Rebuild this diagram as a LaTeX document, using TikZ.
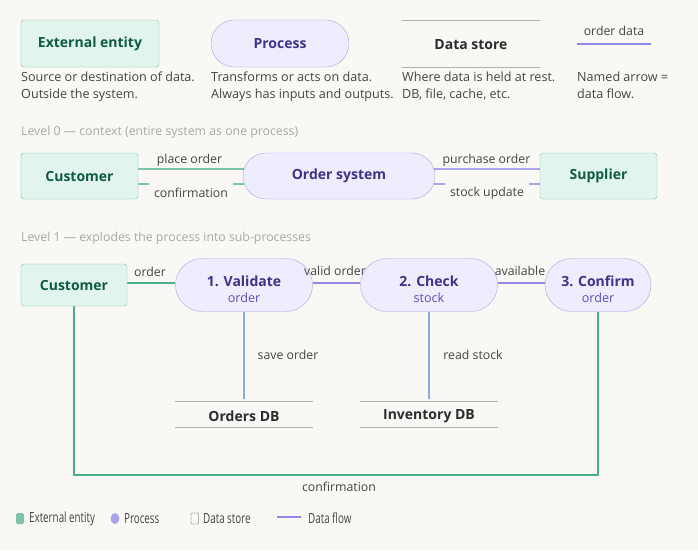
\documentclass[tikz,border=0pt]{standalone}
\usepackage{fontspec}
\usepackage{graphicx}
\setmainfont{Open Sans}
\usetikzlibrary{backgrounds}
\definecolor{bgc}{HTML}{F9F8F5}
\definecolor{entfill}{HTML}{E1F5EE}
\definecolor{entdraw}{HTML}{7CC2A4}
\definecolor{enttext}{HTML}{0F5A44}
\definecolor{procfill}{HTML}{EEEDFE}
\definecolor{procdraw}{HTML}{AAA4EA}
\definecolor{proctext}{HTML}{3C3489}
\definecolor{procsub}{HTML}{5A50C0}
\definecolor{storeline}{HTML}{B4B2AC}
\definecolor{darktext}{HTML}{2C2C2A}
\definecolor{labtext}{HTML}{444441}
\definecolor{headtext}{HTML}{A9A8A3}
\definecolor{gline}{HTML}{7CC4A4}
\definecolor{gdark}{HTML}{4DAE8A}
\definecolor{pline}{HTML}{AAA4EA}
\definecolor{pdark}{HTML}{8F88E6}
\definecolor{bline}{HTML}{7FAEE6}
\tikzset{
  x=1pt, y=-1pt,
  entity/.style={draw=entdraw, fill=entfill, rounded corners=3pt, text=enttext,
    font=\fontsize{14}{17}\selectfont\bfseries, inner sep=0pt},
  proc/.style={draw=procdraw, fill=procfill, text=proctext,
    font=\fontsize{14}{17}\selectfont\bfseries, inner sep=0pt, align=center},
  ptitle/.style={text=proctext, font=\fontsize{14}{17}\selectfont\bfseries, inner sep=0pt},
  psub/.style={text=procsub, font=\fontsize{12.6}{15}\selectfont, inner sep=0pt},
  storetext/.style={text=darktext, font=\fontsize{14}{17}\selectfont\bfseries, inner sep=0pt},
  desc/.style={text=labtext, font=\fontsize{12.6}{17}\selectfont, align=left, anchor=north west, inner sep=0pt},
  lab/.style={text=labtext, font=\fontsize{12.3}{15}\selectfont, inner sep=1pt},
  head/.style={text=headtext, font=\fontsize{12.3}{15}\selectfont, anchor=west, inner sep=0pt},
  leg/.style={text=labtext, font=\fontsize{14}{15}\selectfont, anchor=west, inner sep=0pt},
  gflow/.style={draw=gline, line width=1.6pt},
  gloop/.style={draw=gdark, line width=1.5pt},
  pflow/.style={draw=pline, line width=1.6pt},
  bflow/.style={draw=bline, line width=1.6pt},
  storeln/.style={draw=storeline, line width=1pt},
}
\begin{document}
\begin{tikzpicture}
\useasboundingbox (0,0) rectangle (698,550);
\begin{scope}[on background layer]
\fill[bgc] (0,0) rectangle (698,550);
\end{scope}

% ---- legend row ----
\node[entity, minimum width=138pt, minimum height=47pt] (le) at (90,43.5) {External entity};
\node[proc, minimum width=138pt, minimum height=47pt, rounded corners=23.5pt] (lp) at (280,43.5) {Process};
\coordinate (lsa) at (402,20);
\coordinate (lsb) at (540,20);
\coordinate (lsc) at (402,67);
\coordinate (lsd) at (540,67);
\node[storetext] (ls) at (471,45) {Data store};
\draw[storeln] (lsa) -- (lsb);
\draw[storeln] (lsc) -- (lsd);
\node[lab] (lod) at (614,31) {order data};
\coordinate (lfa) at (577,44);
\coordinate (lfb) at (651,44);
\draw[draw=pdark, line width=2pt] (lfa) -- (lfb);

\node[desc] (d1) at (21,72) {Source or destination of data.\\Outside the system.};
\node[desc] (d2) at (211,72) {Transforms or acts on data.\\Always has inputs and outputs.};
\node[desc] (d3) at (402,72) {Where data is held at rest.\\DB, file, cache, etc.};
\node[desc] (d4) at (577,72) {Named arrow =\\data flow.};

% ---- level 0 ----
\node[head] (h0) at (21,132) {Level 0 — context (entire system as one process)};
\node[entity, minimum width=117pt, minimum height=46pt] (cust0) at (79.5,176) {Customer};
\node[proc, minimum width=192pt, minimum height=46pt, rounded corners=23pt] (ord) at (339,176) {Order system};
\node[entity, minimum width=117pt, minimum height=46pt] (sup) at (598.5,176) {Supplier};

\begin{scope}[on background layer]
\draw[gflow] ([yshift=7pt]cust0.east) -- ([yshift=7pt,xshift=2pt]ord.west)
  node[lab, midway, above=1pt, xshift=-2pt] {place order};
\draw[gflow] ([yshift=-8pt]cust0.east) -- ([yshift=-8pt,xshift=1pt]ord.west)
  node[lab, midway, yshift=-9pt, fill=bgc, inner xsep=5pt, inner ysep=5pt] {confirmation};
\draw[pflow] ([yshift=7pt,xshift=-2pt]ord.east) -- ([yshift=7pt]sup.west)
  node[lab, midway, above=1pt] {purchase order};
\draw[pflow] ([yshift=-8pt,xshift=-1pt]ord.east) -- ([yshift=-8pt]sup.west)
  node[lab, midway, yshift=-9pt, fill=bgc, inner xsep=5pt, inner ysep=5pt] {stock update};
\end{scope}

% ---- level 1 ----
\node[head] (h1) at (21,238) {Level 1 — explodes the process into sub-processes};
\node[entity, minimum width=106pt, minimum height=42pt] (cust1) at (74,285) {Customer};
\node[proc, minimum width=137pt, minimum height=53pt, rounded corners=26.5pt] (val) at (244,285) {};
\node[ptitle] (valt) at (244,281) {1. Validate};
\node[psub] (vals) at (244,297.5) {order};
\node[proc, minimum width=137pt, minimum height=53pt, rounded corners=26.5pt] (chk) at (429,285) {};
\node[ptitle] (chkt) at (429,281) {2. Check};
\node[psub] (chks) at (429,297.5) {stock};
\node[proc, minimum width=106pt, minimum height=53pt, rounded corners=26.5pt] (cnf) at (598,285) {};
\node[ptitle] (cnft) at (598,281) {3. Confirm};
\node[psub] (cnfs) at (598,297.5) {order};

\node[minimum width=137pt, minimum height=25pt, inner sep=0pt] (odb) at (244,414.5) {};
\node[storetext] (odbt) at (244,416) {Orders DB};
\draw[storeln] (odb.north west) -- (odb.north east);
\draw[storeln] (odb.south west) -- (odb.south east);
\node[minimum width=137pt, minimum height=25pt, inner sep=0pt] (idb) at (429,414.5) {};
\node[storetext] (idbt) at (429,416) {Inventory DB};
\draw[storeln] (idb.north west) -- (idb.north east);
\draw[storeln] (idb.south west) -- (idb.south east);

\coordinate (loopy) at (0,475);
\begin{scope}[on background layer]
\draw[draw=gdark, line width=1.3pt] ([yshift=2pt]cust1.east) -- ([yshift=2pt]val.west);
\draw[draw=pdark, line width=1.3pt] ([yshift=2pt]val.east) -- ([yshift=2pt]chk.west);
\draw[draw=pdark, line width=1.3pt] ([yshift=2pt]chk.east) -- ([yshift=2pt]cnf.west);
\draw[bflow] (val.south) -- ([yshift=3pt]odb.north);
\draw[bflow] (chk.south) -- ([yshift=3pt]idb.north);
\draw[gloop] (cust1.south) -- (cust1.south |- loopy) -- (cnf.south |- loopy) -- (cnf.south);
\end{scope}
\node[lab] (lorder) at (150,272) {order};
\node[lab] (lvalid) at (335,271) {valid order};
\node[lab] (lavail) at (520,271) {available};
\node[lab] (lsave) at (288,355) {save order};
\node[lab] (lread) at (473,355) {read stock};
\node[lab] (lconf) at (339,487) {confirmation};

% ---- bottom legend ----
\fill[fill=gline, rounded corners=1.5pt] (16,513) rectangle (24,524);
\node[leg] (k1) at (29,518.5) {\scalebox{0.7}[1]{External entity}};
\fill[fill=procdraw] (115,518.5) ellipse (4.5 and 5.5);
\node[leg] (k2) at (124,518.5) {\scalebox{0.7}[1]{Process}};
\draw[draw=storeline, line width=0.8pt, rounded corners=1pt] (191,513) rectangle (198.5,524);
\node[leg] (k3) at (203,518.5) {\scalebox{0.7}[1]{Data store}};
\coordinate (kla) at (277,517);
\coordinate (klb) at (301,517);
\draw[draw=pdark, line width=1.3pt] (kla) -- (klb);
\node[leg] (k4) at (308,518.5) {\scalebox{0.7}[1]{Data flow}};
\end{tikzpicture}
\end{document}
